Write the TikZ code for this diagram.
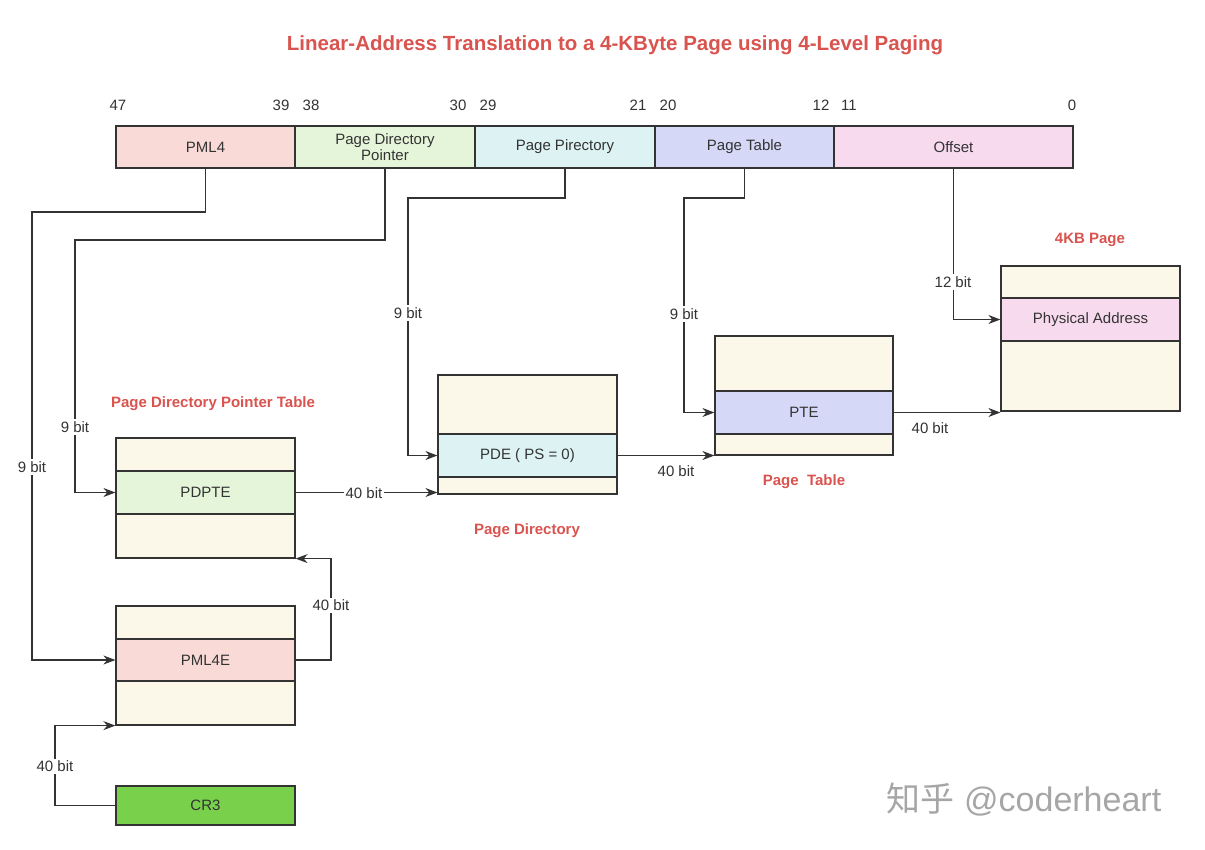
\documentclass[tikz,border=0pt]{standalone}
\usepackage{fontspec}
\setmainfont{Liberation Sans}
\newfontfamily\cjk{Noto Sans CJK SC}
\usetikzlibrary{arrows.meta}
\definecolor{ttl}{HTML}{D9534F}
\definecolor{cream}{HTML}{FCF8E9}
\definecolor{cpink}{HTML}{F9DAD7}
\definecolor{cgreen}{HTML}{E5F5DA}
\definecolor{ccyan}{HTML}{DDF3F3}
\definecolor{clav}{HTML}{D5D8F7}
\definecolor{cmag}{HTML}{F8DAEF}
\definecolor{ccr}{HTML}{78D04B}
\definecolor{ln}{HTML}{333333}
\begin{document}
\begin{tikzpicture}[x=1pt,y=-1pt,
  box/.style={draw=ln,line width=1.2pt,inner sep=0pt,font=\fontsize{15}{17}\selectfont,text=ln,align=center},
  conn/.style={draw=ln,line width=1.1pt,-{Stealth[length=12pt,width=9pt]}},
  lab/.style={fill=white,inner sep=2pt,font=\fontsize{15}{17}\selectfont,text=ln},
  red/.style={text=ttl,font=\bfseries\fontsize{15}{17}\selectfont},
  num/.style={font=\fontsize{15}{17}\selectfont,text=ln}]
\useasboundingbox (0,0) rectangle (1205,849);
\node[text=ttl,font=\bfseries\fontsize{20.5}{22}\selectfont] (title) at (615,45) {Linear-Address Translation to a 4-KByte Page using 4-Level Paging};
% bit numbers
\foreach \n/\x in {47/118,39/281,38/311,30/458,29/488,21/638,20/668,12/821,11/849,0/1072}
  \node[num] (b\n) at (\x,105) {\n};
% linear address fields
\node[box,fill=cpink,minimum width=179pt,minimum height=42pt] (pml4) at (205.5,147) {PML4};
\node[box,fill=cgreen,minimum width=180pt,minimum height=42pt] (pdp) at (385,147) {Page Directory\\[-1pt]Pointer};
\node[box,fill=ccyan,minimum width=180pt,minimum height=42pt] (pd) at (565,147) {Page Pirectory};
\node[box,fill=clav,minimum width=179pt,minimum height=42pt] (pt) at (744.5,147) {Page Table};
\node[box,fill=cmag,minimum width=239pt,minimum height=42pt] (off) at (953.5,147) {Offset};
% tables
\node[box,fill=cream,minimum width=179pt,minimum height=120pt] (pdpt) at (205.5,498) {};
\node[box,fill=cgreen,minimum width=179pt,minimum height=43pt] (pdpte) at (205.5,492.5) {PDPTE};
\node[box,fill=cream,minimum width=179pt,minimum height=119pt] (pml4t) at (205.5,665.5) {};
\node[box,fill=cpink,minimum width=179pt,minimum height=42pt] (pml4e) at (205.5,660) {PML4E};
\node[box,fill=ccr,minimum width=179pt,minimum height=39pt] (cr3) at (205.5,805.5) {CR3};
\node[box,fill=cream,minimum width=179pt,minimum height=119pt] (pdt) at (527.5,434.5) {};
\node[box,fill=ccyan,minimum width=179pt,minimum height=43pt] (pde) at (527.5,455.5) {PDE ( PS = 0)};
\node[box,fill=cream,minimum width=178pt,minimum height=119pt] (ptt) at (804,395.5) {};
\node[box,fill=clav,minimum width=178pt,minimum height=43pt] (pte) at (804,412.5) {PTE};
\node[box,fill=cream,minimum width=179pt,minimum height=145pt] (page) at (1090.5,338.5) {};
\node[box,fill=cmag,minimum width=179pt,minimum height=43pt] (pa) at (1090.5,319.5) {Physical Address};
% table titles
\node[red] (t1) at (213,404) {Page Directory Pointer Table};
\node[red] (t2) at (527,531) {Page Directory};
\node[red] (t3) at (804,482) {Page\ \ Table};
\node[red] (t4) at (1090,240) {4KB Page};
% connectors
\coordinate (a1) at (32,212);
\coordinate (a2) at (75,240);
\coordinate (a3) at (408,198);
\coordinate (a4) at (684,198);
\coordinate (a5) at (331,600);
\coordinate (a6) at (55,766);
\draw[conn] (pml4.south) |- (a1) |- (pml4e.west);
\draw[conn] (pdp.south) |- (a2) |- (pdpte.west);
\draw[conn] (pd.south) |- (a3) |- (pde.west);
\draw[conn] (pt.south) |- (a4) |- (pte.west);
\draw[conn] (off.south) |- (pa.west);
\draw[conn] (pdpte.east) -- (pdpte.east -| pdt.west);
\draw[conn] (pde.east) -- (pde.east -| ptt.west);
\draw[conn] (pte.east) -- (pte.east -| page.west);
\draw[conn] (pml4e.east) -| (a5) |- (pdpt.south east);
\draw[conn] (cr3.west) -| (a6) |- (pml4t.south west);
% labels
\node[lab] (l1) at (32,467) {9 bit};
\node[lab] (l2) at (75,427) {9 bit};
\node[lab] (l3) at (408,313) {9 bit};
\node[lab] (l4) at (684,314) {9 bit};
\node[lab] (l5) at (953,282) {12 bit};
\node[lab] (l6) at (364,493) {40 bit};
\node[lab] (l7) at (676,471) {40 bit};
\node[lab] (l8) at (930,428) {40 bit};
\node[lab] (l9) at (331,605) {40 bit};
\node[lab] (l10) at (55,766) {40 bit};
\node[text=black!35,font=\fontsize{34}{36}\selectfont] (wm) at (1024,800) {{\cjk 知乎} @coderheart};
\end{tikzpicture}
\end{document}
